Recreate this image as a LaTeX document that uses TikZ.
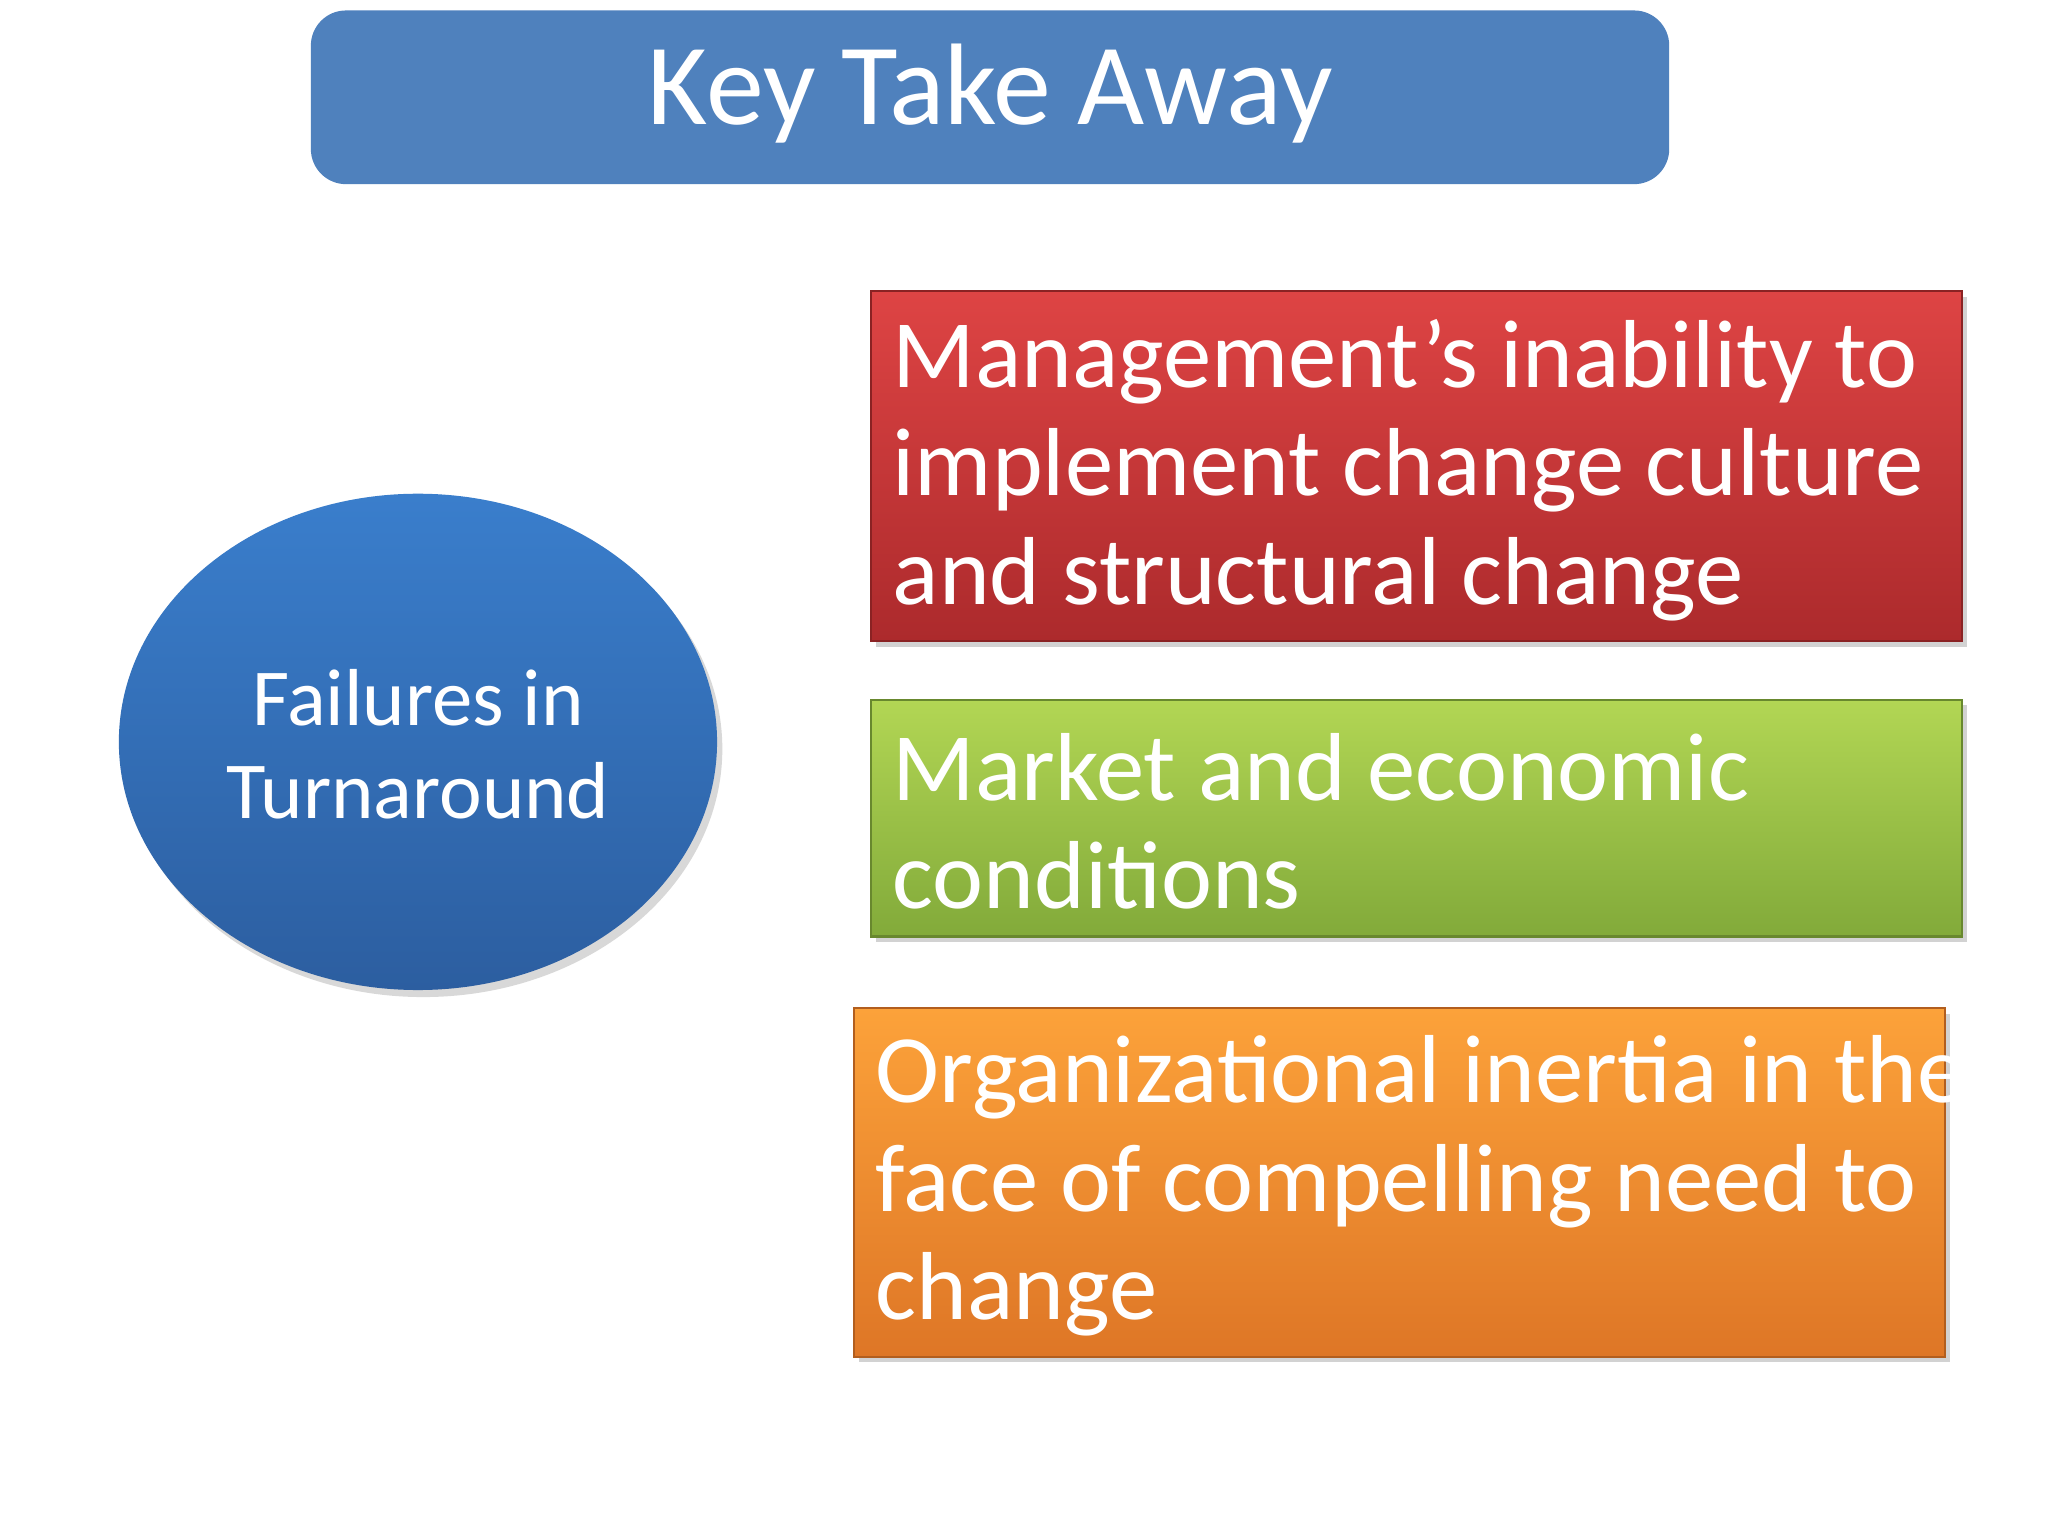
\documentclass[tikz,border=0pt]{standalone}
\usepackage{fontspec}
\setmainfont{Carlito}
\usetikzlibrary{shadows}
\definecolor{titleblue}{RGB}{79,129,189}
\definecolor{redT}{RGB}{222,68,68}
\definecolor{redB}{RGB}{172,42,44}
\definecolor{grnT}{RGB}{178,214,84}
\definecolor{grnB}{RGB}{130,170,58}
\definecolor{orgT}{RGB}{252,162,58}
\definecolor{orgB}{RGB}{222,118,38}
\definecolor{bluT}{RGB}{58,126,204}
\definecolor{bluB}{RGB}{44,94,160}
\tikzset{
 card/.style={draw=#1!80!black, line width=0.6pt, drop shadow={opacity=0.35,shadow xshift=1.5pt,shadow yshift=-1.5pt}},
 cardtext/.style={anchor=west, align=left, text=white, inner sep=0pt, font=\fontsize{27.5}{30.8}\selectfont}
}
\begin{document}
\begin{tikzpicture}[x=0.013061cm,y=-0.013061cm]
\useasboundingbox (0,0) rectangle (1568,1176);
\fill[white] (0,0) rectangle (1568,1176);
% title
\node[fill=titleblue, rounded corners=10pt, minimum width=1040*0.013061cm, minimum height=133*0.013061cm, inner sep=0pt] (title) at (758,74.5) {};
\node[text=white, font=\fontsize{33}{38}\selectfont] (titletext) at (758,72) {Key Take Away};
% ellipse
\shade[top color=bluT, bottom color=bluB, drop shadow={opacity=0.3,shadow xshift=1.5pt,shadow yshift=-2pt}] (320,568) ellipse (229 and 190);
\node[text=white, align=center, font=\fontsize{23}{26.6}\selectfont] (fail) at (320,570) {Failures in\\Turnaround};
% red
\shade[top color=redT, bottom color=redB, card=redB] (667,223) rectangle (1502,491);
\node[cardtext] (red) at (683,360) {Management’s inability to\\implement change culture\\and structural change};
% green
\shade[top color=grnT, bottom color=grnB, card=grnB] (667,536) rectangle (1502,717);
\node[cardtext] (green) at (683,629) {Market and economic\\conditions};
% orange
\shade[top color=orgT, bottom color=orgB, card=orgB] (654,772) rectangle (1489,1039);
\node[cardtext] (orange) at (670,908) {Organizational inertia in the\\face of compelling need to\\change};
\end{tikzpicture}
\end{document}
